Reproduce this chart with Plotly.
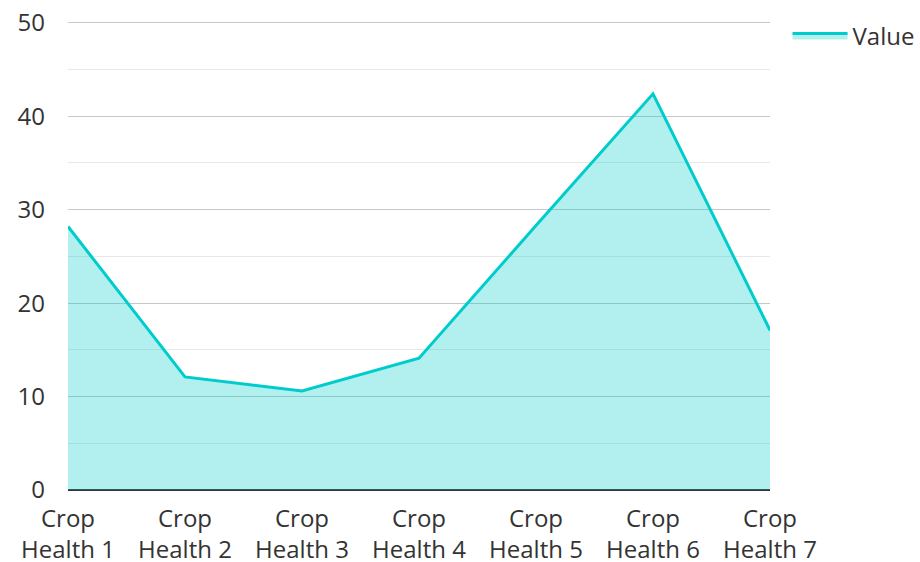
import plotly.graph_objects as go

categories = ["Crop Health 1", "Crop Health 2", "Crop Health 3", "Crop Health 4",
              "Crop Health 5", "Crop Health 6", "Crop Health 7"]
values = [28.2, 12.1, 10.6, 14.1, 28.3, 42.4, 17.1]
tick_text = [c.replace("Crop ", "Crop<br>") for c in categories]
y_ticks = [0, 10, 20, 30, 40, 50]

x_pos = list(range(len(categories)))

fig = go.Figure()
fig.add_trace(go.Scatter(
    x=x_pos, y=values, name="Value", mode="lines",
    line=dict(color="#00cccc", width=3),
    fill="tozeroy", fillcolor="rgba(0,204,204,0.3)",
))

fig.update_layout(
    width=920, height=562,
    margin=dict(l=68, r=150, t=20, b=72, autoexpand=False),
    paper_bgcolor="white", plot_bgcolor="white",
    font=dict(family="Open Sans", size=24, color="#333333"),
    showlegend=True,
    legend=dict(x=1.025, y=1.014, xanchor="left", yanchor="top", itemwidth=55,
                font=dict(size=24, color="#333333"), bgcolor="rgba(0,0,0,0)"),
    xaxis=dict(
        range=[0, len(categories) - 1], tickvals=x_pos, ticktext=tick_text,
        showgrid=False, zeroline=False, showline=False, ticks="",
        automargin=False,
        tickfont=dict(size=24, color="#333333"), ticklabelstandoff=12,
    ),
    yaxis=dict(
        range=[0, 50.3], tickvals=y_ticks, showgrid=True, gridcolor="#c8c8c8",
        gridwidth=1, zeroline=True, zerolinecolor="#333333", zerolinewidth=2,
        ticks="", ticklen=0, tickfont=dict(size=24, color="#333333"),
        ticklabelstandoff=22, automargin=False,
        minor=dict(dtick=5, showgrid=True, gridcolor="#e8e8e8", gridwidth=1),
    ),
)

fig.write_html("out.html")
